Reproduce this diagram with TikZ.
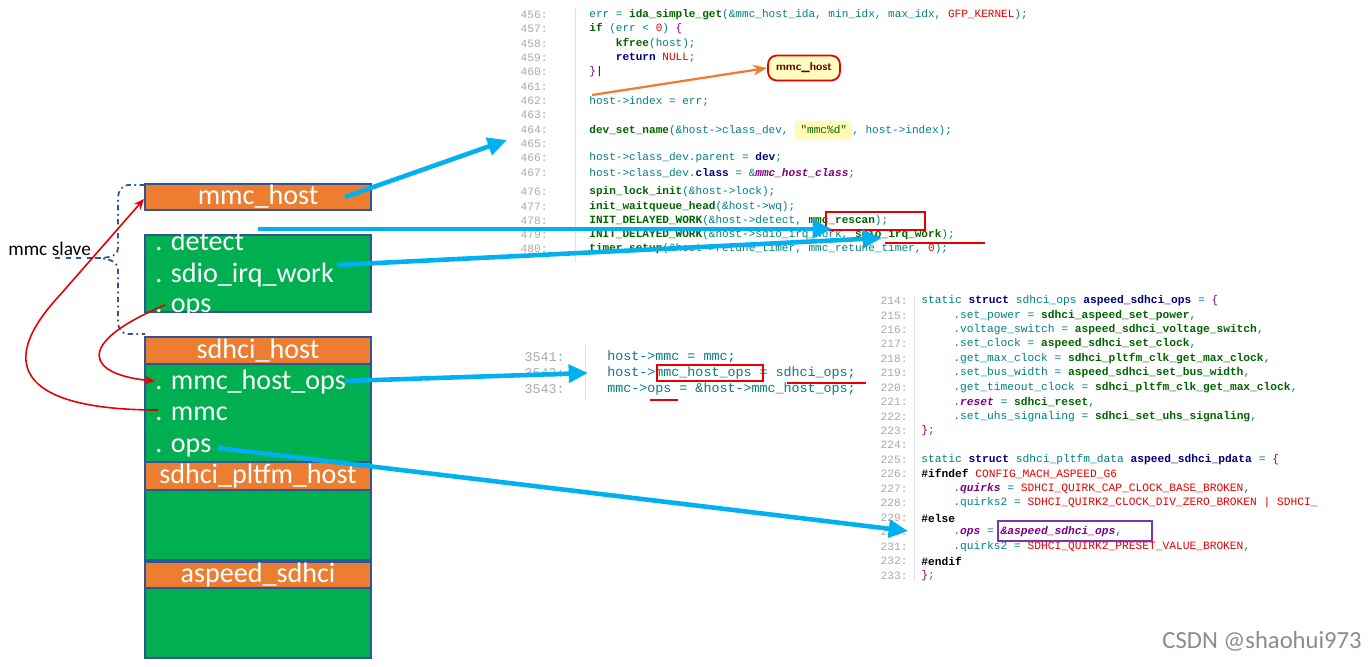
\documentclass[tikz,border=0pt]{standalone}
\usepackage{fontspec}
\setmainfont{Carlito}
\newfontfamily\cod{Liberation Mono}
\usetikzlibrary{arrows.meta}
\definecolor{cyanc}{RGB}{0,176,240}
\definecolor{orng}{RGB}{237,125,49}
\definecolor{grn}{RGB}{0,176,80}
\definecolor{boxb}{RGB}{47,85,151}
\definecolor{cc}{RGB}{0,128,128}
\definecolor{fnc}{RGB}{0,100,0}
\definecolor{rdc}{RGB}{230,0,0}
\definecolor{pur}{RGB}{128,0,128}
\definecolor{kwc}{RGB}{0,0,128}
\definecolor{lnc}{RGB}{170,170,170}
\newcommand\fn[1]{\textcolor{fnc}{\bfseries #1}}
\newcommand\rd[1]{\textcolor{rdc}{#1}}
\newcommand\pu[1]{\textcolor{pur}{#1}}
\newcommand\kb[1]{\textcolor{kwc}{\bfseries #1}}
\newcommand\pit[1]{\textcolor{pur}{\bfseries\itshape #1}}
\begin{document}
\begin{tikzpicture}[x=0.02cm,y=-0.02cm,
 bar/.style={draw=boxb,line width=1pt,fill=orng,minimum width=4.52cm,text=white,font=\fontsize{16}{18}\selectfont,inner sep=0},
 body/.style={draw=boxb,line width=1pt,fill=grn,minimum width=4.52cm,inner sep=0},
 item/.style={anchor=west,text=white,font=\fontsize{16}{18}\selectfont,inner sep=0},
 ln/.style={anchor=east,inner sep=0,text=lnc,font=\cod\fontsize{6.4}{7}\selectfont},
 ca/.style={anchor=west,inner sep=0,text=cc,font=\cod\fontsize{6.3}{7}\selectfont},
 cb/.style={anchor=west,inner sep=0,text=cc,font=\cod\fontsize{7.6}{8}\selectfont},
 cx/.style={anchor=west,inner sep=0,text=cc,font=\cod\fontsize{6.4}{7}\selectfont},
 arr/.style={draw=cyanc,line width=2.6pt,-{Triangle[length=11pt,width=10pt]}},
 rarr/.style={draw=rdc,line width=0.9pt,-{Stealth[length=6pt,width=5pt]}},
 gut/.style={draw=black!12,line width=0.5pt}]
\useasboundingbox[fill=white] (0,0) rectangle (1368,666);
% ---- struct stack
\node[body,minimum height=1.54cm] (g1) at (258,273.5) {};
\node[bar,minimum height=0.52cm] (h1) at (258,197) {mmc\_host};
\node[body,minimum height=1.96cm] (g2) at (258,413) {};
\node[bar,minimum height=0.54cm] (h2) at (258,350.5) {sdhci\_host};
\node[body,minimum height=1.4cm] (g3) at (258,525) {};
\node[bar,minimum height=0.56cm] (h3) at (258,476) {sdhci\_pltfm\_host};
\node[body,minimum height=1.4cm] (g4) at (258,623) {};
\node[bar,minimum height=0.52cm] (h4) at (258,575) {aspeed\_sdhci};
\node[item] (i1) at (155,241) {. detect};
\node[item] (i2) at (155,275) {. sdio\_irq\_work};
\node[item] (i3) at (155,308) {. ops};
\node[item] (i4) at (155,382) {. mmc\_host\_ops};
\node[item] (i5) at (155,414) {. mmc};
\node[item] (i6) at (155,448) {. ops};
% bracket
\draw[boxb,line width=1pt,dash dot] (145,185) -- (128,185) to[out=180,in=90] (118,198) -- (118,248) to[out=-90,in=0] (95,258) to[out=0,in=90] (118,270) -- (118,322) to[out=-90,in=180] (128,334) -- (145,334);
\draw[boxb,line width=1.2pt,dashed] (55,258) -- (95,258);
\node[anchor=west,inner sep=0,font=\fontsize{11}{12}\selectfont] (sl) at (8,249) {mmc slave};
% red curves
\coordinate (r1) at (165,305);
\coordinate (r2) at (155,381);
\coordinate (r3) at (158,410);
\coordinate (r4) at (144,199);
\draw[rarr] (r1) .. controls (70,345) and (90,375) .. (r2);
\draw[rarr] (r3) .. controls (30,410) and (-10,370) .. (60,295) -- (r4);
% ---- code block 1
\draw[gut] (575,8) -- (575,262);
\foreach \n/\y in {456/15,457/29,458/44,459/58,460/72,461/87,462/101,463/115,464/130,465/144,466/158,467/173,476/192,477/207,478/221,479/235,480/249}
  \node[ln] at (548,\y) {\n:};
\node[ca] at (589,15) {err = \fn{ida\_simple\_get}(\&mmc\_host\_ida, min\_idx, max\_idx, \rd{GFP\_KERNEL});};
\node[ca] at (589,29) {\fn{if} (err < \rd{0}) \pu{\{}};
\node[ca] at (589,44) {\phantom{xxxx}\fn{kfree}(host);};
\node[ca] at (589,58) {\phantom{xxxx}\kb{return} \rd{NULL};};
\node[ca] at (589,72) {\pu{\}}\textcolor{black}{|}};
\node[ca] at (589,101) {host->index = err;};
\node[ca] at (589,130) {\fn{dev\_set\_name}(\&host->class\_dev, \colorbox{yellow!30}{\textcolor{fnc}{"mmc\%d"}}, host->index);};
\node[ca] at (589,158) {host->class\_dev.parent = \kb{dev};};
\node[ca] at (589,173) {host->class\_dev.\kb{class} = \&\pit{mmc\_host\_class};};
\node[ca] at (589,192) {\fn{spin\_lock\_init}(\&host->lock);};
\node[ca] at (589,207) {\fn{init\_waitqueue\_head}(\&host->wq);};
\node[ca] at (589,221) {\fn{INIT\_DELAYED\_WORK}(\&host->detect, \fn{mmc\_rescan});};
\node[ca] at (589,235) {\fn{INIT\_DELAYED\_WORK}(\&host->sdio\_irq\_work, \fn{sdio\_irq\_work});};
\node[ca] at (589,249) {\fn{timer\_setup}(\&host->retune\_timer, mmc\_retune\_timer, \rd{0});};
\draw[rdc,line width=0.7pt] (826,212) rectangle (925,230);
\draw[rdc,line width=1.3pt] (885,243) -- (985,243);
% callout
\node[draw=rdc,line width=1pt,fill=yellow!25,rounded corners=5pt,minimum width=1.44cm,minimum height=0.5cm,inner sep=0,font=\sffamily\bfseries\fontsize{6.5}{7}\selectfont,text=red!40!black] (cal) at (804,68) {mmc\_host};
\coordinate (oa) at (592,95);
\draw[draw=orng,line width=1.3pt,-{Stealth[length=8pt,width=6pt]}] (oa) -- (cal.west);
% ---- code block 2
\draw[gut] (585,345) -- (585,400);
\foreach \n/\y in {3541/357,3542/373,3543/389}
  \node[ln,font=\cod\fontsize{7.6}{8}\selectfont] at (565,\y) {\n:};
\node[cb] at (607,357) {host->mmc = mmc;};
\node[cb] at (607,373) {host->mmc\_host\_ops = sdhci\_ops;};
\node[cb] at (607,389) {mmc->ops = \&host->mmc\_host\_ops;};
\draw[rdc,line width=0.7pt] (657,365) rectangle (763,381);
\draw[rdc,line width=1.3pt] (787,383) -- (866,383);
\draw[rdc,line width=1.3pt] (650,400) -- (678,400);
% ---- code block 3
\draw[gut] (914,296) -- (914,580);
\foreach \n/\y in {214/301,215/316,216/330,217/344,218/359,219/373,220/388,221/402,222/417,223/431,224/445,225/460,226/474,227/489,228/503,229/518,230/532,231/547,232/561,233/576}
  \node[ln] at (908,\y) {\n:};
\node[cx] at (921,301) {static \kb{struct} sdhci\_ops \kb{aspeed\_sdhci\_ops} = \pu{\{}};
\node[cx] at (953,316) {.set\_power = \fn{sdhci\_aspeed\_set\_power},};
\node[cx] at (953,330) {.voltage\_switch = \fn{aspeed\_sdhci\_voltage\_switch},};
\node[cx] at (953,344) {.set\_clock = \fn{aspeed\_sdhci\_set\_clock},};
\node[cx] at (953,359) {.get\_max\_clock = \fn{sdhci\_pltfm\_clk\_get\_max\_clock},};
\node[cx] at (953,373) {.set\_bus\_width = \fn{aspeed\_sdhci\_set\_bus\_width},};
\node[cx] at (953,388) {.get\_timeout\_clock = \fn{sdhci\_pltfm\_clk\_get\_max\_clock},};
\node[cx] at (953,402) {.\pit{reset} = \fn{sdhci\_reset},};
\node[cx] at (953,417) {.set\_uhs\_signaling = \fn{sdhci\_set\_uhs\_signaling},};
\node[cx] at (921,431) {\pu{\}};};
\node[cx] at (921,460) {static \kb{struct} sdhci\_pltfm\_data \kb{aspeed\_sdhci\_pdata} = \pu{\{}};
\node[cx] at (921,474) {\textcolor{black}{\bfseries\#ifndef} \rd{CONFIG\_MACH\_ASPEED\_G6}};
\node[cx] at (953,489) {.\pit{quirks} = \rd{SDHCI\_QUIRK\_CAP\_CLOCK\_BASE\_BROKEN},};
\node[cx] at (953,503) {.quirks2 = \rd{SDHCI\_QUIRK2\_CLOCK\_DIV\_ZERO\_BROKEN | SDHCI\_}};
\node[cx] at (921,518) {\textcolor{black}{\bfseries\#else}};
\node[cx] at (953,532) {.\pit{ops} = \pit{\&aspeed\_sdhci\_ops},};
\node[cx] at (953,547) {.quirks2 = \rd{SDHCI\_QUIRK2\_PRESET\_VALUE\_BROKEN},};
\node[cx] at (921,561) {\textcolor{black}{\bfseries\#endif}};
\node[cx] at (921,576) {\pu{\}};};
\draw[pur!70!blue!80,line width=0.8pt] (998,521) rectangle (1152,541);
% ---- cyan arrows
\coordinate (a1s) at (345,197); \coordinate (a1e) at (507,140);
\coordinate (a2s) at (258,229); \coordinate (a2e) at (832,229);
\coordinate (a3s) at (337,265); \coordinate (a3e) at (882,238);
\coordinate (a4s) at (345,381); \coordinate (a4e) at (588,373);
\coordinate (a5s) at (218,448); \coordinate (a5e) at (908,531);
\draw[arr] (a1s) -- (a1e);
\draw[arr] (a2s) -- (a2e);
\draw[arr] (a3s) -- (a3e);
\draw[arr] (a4s) -- (a4e);
\draw[arr] (a5s) -- (a5e);
% watermark
\node[anchor=east,inner sep=0,text=black!45,font=\fontsize{14}{15}\selectfont] (wm) at (1362,641) {CSDN @shaohui973};
\end{tikzpicture}
\end{document}
